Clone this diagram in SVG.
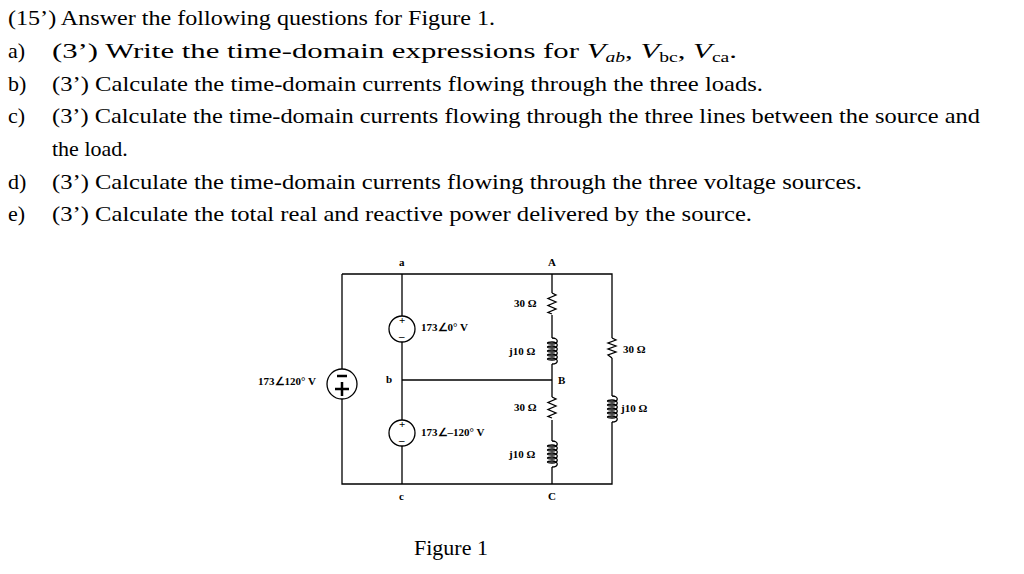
<svg xmlns="http://www.w3.org/2000/svg" width="1024" height="574" viewBox="0 0 1024 574">
<style>
.t{font-family:"Liberation Serif",serif;font-size:22px;fill:#000}
.s{font-family:"Liberation Serif",serif;font-size:11px;font-weight:bold;fill:#000}
.w{fill:none;stroke:#000;stroke-width:1.3}
</style>
<defs>
<path id="coil" class="w" d="M0 0c7 0 7 6 0 6c-6 0-6-2 0-2c7 0 7 6 0 6c-6 0-6-2 0-2c7 0 7 6 0 6c-6 0-6-2 0-2c7 0 7 6 0 6c-6 0-6-2 0-2c7 0 7 6 0 6c-6 0-6-2 0-2c7 0 7 6 0 6"/>
</defs>
<rect width="1024" height="574" fill="#fff"/>
<text class="t" x="8" y="25" textLength="487" lengthAdjust="spacingAndGlyphs">(15’) Answer the following questions for Figure 1.</text>
<text class="t" x="8" y="58">a)</text><text class="t" x="52" y="58" textLength="685" lengthAdjust="spacingAndGlyphs">(3’) Write the time-domain expressions for <tspan font-style="italic">V</tspan><tspan font-size="14" font-style="italic" dy="4">ab</tspan><tspan dy="-4">, </tspan><tspan font-style="italic">V</tspan><tspan font-size="14" dy="4">bc</tspan><tspan dy="-4">, </tspan><tspan font-style="italic">V</tspan><tspan font-size="14" dy="4">ca</tspan><tspan dy="-4">.</tspan></text>
<text class="t" x="8" y="91">b)</text><text class="t" x="52" y="91" textLength="711" lengthAdjust="spacingAndGlyphs">(3’) Calculate the time-domain currents flowing through the three loads.</text>
<text class="t" x="8" y="123">c)</text><text class="t" x="52" y="123" textLength="928" lengthAdjust="spacingAndGlyphs">(3’) Calculate the time-domain currents flowing through the three lines between the source and</text>
<text class="t" x="52" y="156">the load.</text>
<text class="t" x="8" y="189">d)</text><text class="t" x="52" y="189" textLength="810" lengthAdjust="spacingAndGlyphs">(3’) Calculate the time-domain currents flowing through the three voltage sources.</text>
<text class="t" x="8" y="221">e)</text><text class="t" x="52" y="221" textLength="700" lengthAdjust="spacingAndGlyphs">(3’) Calculate the total real and reactive power delivered by the source.</text>
<g id="connectors">
<path class="w" d="M342 274H612V338M612 358V396M612 422V484H342V399M342 369V274"/>
<path class="w" d="M402 274V316M402 342V420M402 446V484"/>
<path class="w" d="M402 380H552"/>
<path class="w" d="M552 274V293M552 315V338M552 364V397M552 420V441M552 467V484"/>
</g>
<g id="R1"><path class="w" d="M552 293l4 2-8 3.5 8 3.5-8 3.5 8 3.5-8 3.5 4 1.5"/><text class="s" x="514" y="307">30 Ω</text></g>
<g id="L1"><use href="#coil" x="552" y="338"/><text class="s" x="509" y="355">j10 Ω</text></g>
<g id="R2"><path class="w" d="M552 397l4 2-8 3.5 8 3.5-8 3.5 8 3.5-8 3.5 4 1.5"/><text class="s" x="514" y="411">30 Ω</text></g>
<g id="L2"><use href="#coil" x="552" y="441"/><text class="s" x="509" y="458">j10 Ω</text></g>
<g id="R3"><path class="w" d="M612 338l4 2-8 3 8 3-8 3 8 3-8 3 4 3"/><text class="s" x="623" y="353">30 Ω</text></g>
<g id="L3"><use href="#coil" x="612" y="396"/><text class="s" x="621" y="412">j10 Ω</text></g>
<g id="Vab"><circle class="w" cx="402" cy="329" r="13"/><text class="s" x="399" y="324" font-size="9" font-weight="normal">+</text><text class="s" x="399" y="340" font-size="9" font-weight="normal">–</text><text class="s" x="421" y="331">173∠0° V</text></g>
<g id="Vbc"><circle class="w" cx="402" cy="433" r="13"/><text class="s" x="399" y="428" font-size="9" font-weight="normal">+</text><text class="s" x="399" y="444" font-size="9" font-weight="normal">–</text><text class="s" x="421" y="436">173∠–120° V</text></g>
<g id="Vca"><circle class="w" cx="342" cy="384" r="15"/><path d="M337 376h10M335 389h14M342 382v14" stroke="#000" stroke-width="2.5"/><text class="s" x="258" y="385">173∠120° V</text></g>
<g id="labels">
<text class="s" x="399" y="266">a</text><text class="s" x="548" y="266">A</text>
<text class="s" x="386" y="383">b</text><text class="s" x="558" y="384">B</text>
<text class="s" x="399" y="500">c</text><text class="s" x="548" y="500">C</text>
</g>
<text class="t" x="414" y="555">Figure 1</text>
</svg>
